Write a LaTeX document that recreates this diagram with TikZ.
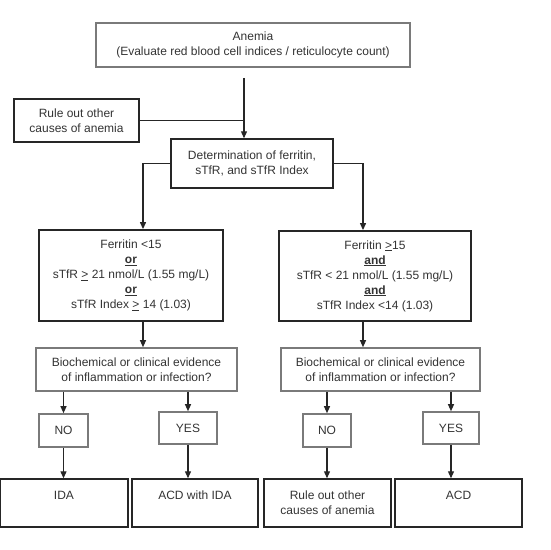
\documentclass[tikz,border=0pt]{standalone}
\usepackage{fontspec}
\setmainfont{Liberation Sans}
\usetikzlibrary{arrows.meta}
\definecolor{tinta}{HTML}{333333}
\definecolor{borde}{HTML}{7A7A7A}

\begin{document}
\begin{tikzpicture}[x=1pt, y=-1pt,
    caja/.style={draw=black!85, line width=1.4pt, align=center, text=tinta,
      font=\fontsize{12}{15}\selectfont, inner sep=0pt},
    gris/.style={caja, draw=borde, line width=1.6pt},
    flecha/.style={-{Triangle[length=7pt, width=6pt]}, line width=1.1pt, black!85},
    linea/.style={line width=1.1pt, black!85}]
  \useasboundingbox (0,0) rectangle (550,550);
  % cabecera
  \node[gris, minimum width=314, minimum height=44] (anemia) at (253,45)
    {Anemia\\(Evaluate red blood cell indices / reticulocyte count)};
  \node[caja, minimum width=125, minimum height=43] (otras) at (76.5,120.5)
    {Rule out other\\causes of anemia};
  \node[caja, minimum width=162, minimum height=49] (determ) at (252,163.5)
    {Determination of ferritin,\\sTfR, and sTfR Index};
  \coordinate (jn) at (244,120.5);
  \coordinate (cL) at (143,0);
  \coordinate (cR) at (363,0);
  % criterios
  \node[caja, line width=1.8pt, minimum width=184, minimum height=91] (ferBajo) at (131,275.5)
    {Ferritin <15\\\underline{\textbf{or}}\\sTfR \underline{>} 21 nmol/L (1.55 mg/L)\\
     \underline{\textbf{or}}\\sTfR Index \underline{>} 14 (1.03)};
  \node[caja, line width=1.8pt, minimum width=192, minimum height=90] (ferAlto) at (375,276)
    {Ferritin \underline{>}15\\\underline{\textbf{and}}\\sTfR < 21 nmol/L (1.55 mg/L)\\
     \underline{\textbf{and}}\\sTfR Index <14 (1.03)};
  % inflamacion
  \node[gris, minimum width=201, minimum height=43] (bioL) at (136.5,369.5)
    {Biochemical or clinical evidence\\of inflammation or infection?};
  \node[gris, minimum width=199, minimum height=43] (bioR) at (380.5,369.5)
    {Biochemical or clinical evidence\\of inflammation or infection?};
  \node[gris, minimum width=49, minimum height=33] (noL) at (63.5,430.5) {NO};
  \node[gris, minimum width=58, minimum height=32] (siL) at (188,428) {YES};
  \node[gris, minimum width=48, minimum height=33] (noR) at (327,430.5) {NO};
  \node[gris, minimum width=56, minimum height=32] (siR) at (451,428) {YES};
  % diagnosticos
  \node[caja, minimum width=128, minimum height=48] (ida) at (64,503) {IDA\\\mbox{}};
  \node[caja, minimum width=126, minimum height=48] (acdida) at (195,503) {ACD with IDA\\\mbox{}};
  \node[caja, minimum width=127, minimum height=48] (otrasR) at (327.5,503)
    {Rule out other\\causes of anemia};
  \node[caja, minimum width=127, minimum height=48] (acd) at (458.5,503) {ACD\\\mbox{}};
  % conectores
  \draw[flecha] ([yshift=-10pt]anemia.south -| jn) -- (determ.north -| jn);
  \draw[linea] (otras.east) -- (jn);
  \draw[flecha] (determ.west) -| (ferBajo.north -| cL);
  \draw[flecha] (determ.east) -| (ferAlto.north -| cR);
  \draw[flecha] (ferBajo.south -| cL) -- (bioL.north -| cL);
  \draw[flecha] (ferAlto.south -| cR) -- (bioR.north -| cR);
  \draw[flecha] (bioL.south -| noL) -- (noL.north);
  \draw[flecha] (bioL.south -| siL) -- (siL.north);
  \draw[flecha] (bioR.south -| noR) -- (noR.north);
  \draw[flecha] (bioR.south -| siR) -- (siR.north);
  \draw[flecha] (noL.south) -- (noL.south |- ida.north);
  \draw[flecha] (siL.south) -- (siL.south |- acdida.north);
  \draw[flecha] (noR.south) -- (noR.south |- otrasR.north);
  \draw[flecha] (siR.south) -- (siR.south |- acd.north);
\end{tikzpicture}
\end{document}
